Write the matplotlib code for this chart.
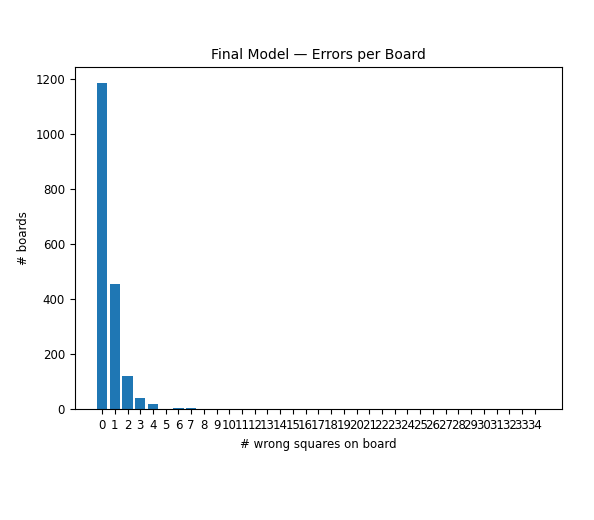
import numpy as np
import matplotlib.pyplot as plt

errors = list(range(35))
counts = [1185, 455, 122, 40, 18, 2, 5, 3, 0, 0, 0, 0, 0, 1, 0, 1, 0, 0, 1,
          0, 0, 0, 0, 0, 0, 0, 0, 0, 1, 0, 0, 0, 0, 0, 1]

plt.rcParams['font.size'] = 8.5
fig = plt.figure(figsize=(5.94, 5.2), dpi=100)
ax = fig.add_axes([0.126, 0.213, 0.82, 0.658])
ax.bar(errors, counts, color='#1f77b4')
ax.set_xticks(errors)
ax.set_title('Final Model — Errors per Board', fontsize=10)
ax.set_xlabel('# wrong squares on board')
ax.set_ylabel('# boards')
fig.savefig('out.png', dpi=100)
